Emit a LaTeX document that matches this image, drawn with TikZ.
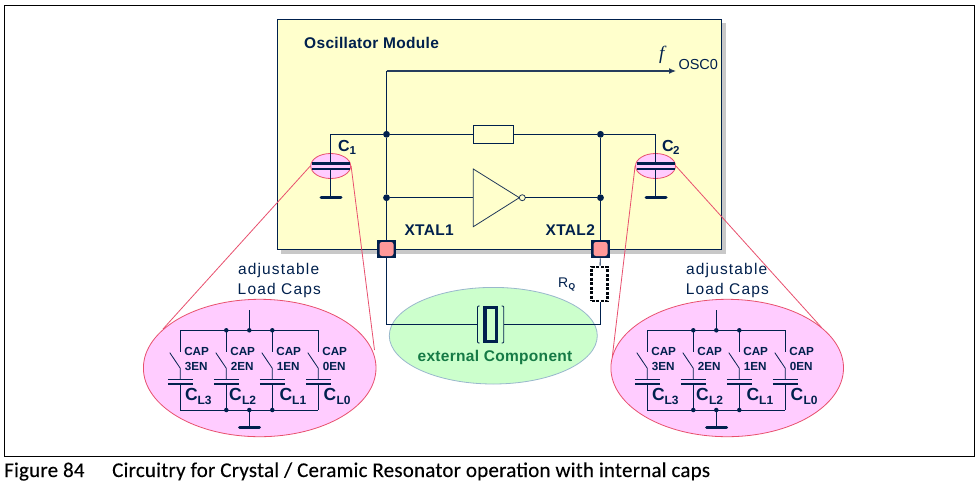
\documentclass[tikz,border=0pt]{standalone}
\usepackage{fontspec}
\setmainfont{Liberation Sans}
\newfontfamily\capfont[FakeBold=0.2,LetterSpace=1]{Carlito}
\newfontfamily\serifit{Liberation Serif}
\newfontfamily\spaced[LetterSpace=7.5]{Liberation Sans}
\newfontfamily\spacedb[LetterSpace=2,BoldFont={Liberation Sans Bold}]{Liberation Sans}
\usetikzlibrary{arrows.meta,shapes.geometric}
\definecolor{navy}{HTML}{00204D}
\definecolor{modfill}{HTML}{FFFFCC}
\definecolor{shadow}{HTML}{C8C8C8}
\definecolor{pinkfill}{HTML}{FFCCFF}
\definecolor{redline}{HTML}{E8506E}
\definecolor{padfill}{HTML}{FF9999}
\definecolor{greenfill}{HTML}{CCFFCC}
\definecolor{greenedge}{HTML}{99B8CC}
\definecolor{greentext}{HTML}{157A45}
\tikzset{
  wire/.style={draw=navy,line width=0.9pt},
  thinw/.style={draw=navy,line width=0.8pt},
  plate/.style={draw=navy,line width=2.8pt},
  gnd/.style={draw=navy,line width=3pt,line cap=round},
  lnk/.style={draw=redline,line width=0.8pt},
  dot/.style={circle,fill=navy,draw=none,minimum size=6.8pt,inner sep=0pt},
  sdot/.style={circle,fill=navy,draw=none,minimum size=4.5pt,inner sep=0pt},
  txt/.style={inner sep=0pt,text=navy},
  padbox/.style={fill=navy,minimum size=18.5pt,inner sep=0pt},
  padin/.style={fill=padfill,rounded corners=2.5pt,minimum size=14pt,inner sep=0pt},
  capl/.style={txt,anchor=west,font=\bfseries\fontsize{11.7}{12}\selectfont},
  bigc/.style={txt,anchor=base west,font=\bfseries\fontsize{17.5}{18}\selectfont},
  subc/.style={txt,anchor=base west,font=\bfseries\fontsize{12}{12}\selectfont},
  lbl/.style={txt,font=\spaced\fontsize{15.5}{16}\selectfont},
  blbl/.style={txt,font=\spacedb\bfseries\fontsize{15.5}{16}\selectfont},
}
\newcommand{\capbank}[2]{%
  \begin{scope}[xshift=#1pt]
    \node[circle,inner sep=0pt,minimum size=1pt] (#2top) at (249.3,310) {};
    \coordinate (#2bt) at (249.3,330.3);
    \coordinate (#2ba) at (180.3,330.3);
    \coordinate (#2bd) at (318.3,330.3);
    \coordinate (#2lb) at (249.3,410);
    \coordinate (#2la) at (180.3,410);
    \coordinate (#2ld) at (318.3,410);
    \coordinate (#2g) at (249.3,427.7);
    \draw[thinw] (#2top.center) -- (#2bt);
    \draw[thinw] (#2ba) -- (#2bd);
    \draw[thinw] (#2la) -- (#2ld);
    \draw[thinw] (#2lb) -- (#2g);
    \draw[gnd] (239.5,427.7) -- (259.5,427.7);
    \node[sdot] at (#2bt) {};
    \node[sdot] at (#2lb) {};
    \foreach \cx/\name in {180.3/3EN,226.3/2EN,272.3/1EN,318.3/0EN}{
      \draw[thinw] (\cx,330.3) -- (\cx,351.5);
      \draw[thinw] (\cx-10.5,352.7) -- (\cx,368.3) -- (\cx,379.7);
      \draw[draw=navy,line width=1.5pt] (\cx-12.5,379.7) -- (\cx+12.5,379.7);
      \draw[draw=navy,line width=1.5pt] (\cx-12.5,384) -- (\cx+12.5,384);
      \draw[thinw] (\cx,384) -- (\cx,410);
      \node[capl] at (\cx+3.8,351.7) {CAP};
      \node[capl] at (\cx+4.3,366) {\name};
    }
    \node[sdot] at (226.3,330.3) {};
    \node[sdot] at (272.3,330.3) {};
    \node[sdot] at (226.3,410) {};
    \node[sdot] at (272.3,410) {};
    \node[bigc] at (185,400.5) {C};
    \node[subc] at (197.3,404.5) {L3};
    \node[bigc] at (229,400.5) {C};
    \node[subc] at (241.8,404.5) {L2};
    \node[bigc] at (279.3,400.5) {C};
    \node[subc] at (292,404.5) {L1};
    \node[bigc] at (323.5,400.5) {C};
    \node[subc] at (336.3,404.5) {L0};
  \end{scope}}
\begin{document}
\begin{tikzpicture}[x=1pt,y=-1pt]
\useasboundingbox (0,0) rectangle (980,491);
\fill[white] (0,0) rectangle (980,491);
% outer frame
\draw[black,line width=0.9pt] (4.5,5.3) rectangle (974,456);
% module
\fill[shadow] (281,23) rectangle (726,253.5);
\draw[navy,line width=0.9pt,fill=modfill] (277.3,19.3) rectangle (721.5,249);
\node[blbl,anchor=west] (title) at (304,42.5) {Oscillator Module};
% big ellipses
\node[ellipse,draw=redline,fill=pinkfill,line width=0.8pt,minimum width=232.6pt,minimum height=137.4pt,inner sep=0pt] (elL) at (259.7,368) {};
\node[ellipse,draw=redline,fill=pinkfill,line width=0.8pt,minimum width=232.6pt,minimum height=137.4pt,inner sep=0pt] (elR) at (727.2,368) {};
\node[ellipse,draw=greenedge,fill=greenfill,line width=0.8pt,minimum width=208pt,minimum height=96.6pt,inner sep=0pt] (elG) at (493.3,335.7) {};
% small ellipses
\node[ellipse,draw=redline,fill=pinkfill,line width=0.8pt,minimum width=40pt,minimum height=25pt,inner sep=0pt] (c1e) at (330.7,166) {};
\node[ellipse,draw=redline,fill=pinkfill,line width=0.8pt,minimum width=40pt,minimum height=25pt,inner sep=0pt] (c2e) at (655.5,166) {};
% link lines
\coordinate (l1b) at (163,329);
\coordinate (l2b) at (374.5,350);
\coordinate (r1b) at (612.3,356.7);
\coordinate (r2b) at (821.7,327.7);
\draw[lnk] (c1e.west) -- (l1b);
\draw[lnk] (c1e.east) -- (l2b);
\draw[lnk] (c2e.west) -- (r1b);
\draw[lnk] (c2e.east) -- (r2b);
% load caps labels
\node[lbl] (adjL) at (278.6,270.7) {adjustable};
\node[lbl] (loadL) at (279.3,290) {Load Caps};
\node[lbl] (adjR) at (726.7,270.7) {adjustable};
\node[lbl] (loadR) at (727.3,290) {Load Caps};
% nodes
\node[dot] (j1) at (386.5,134.3) {};
\node[dot] (j2) at (386.5,197.7) {};
\node[dot] (j3) at (600.5,134.3) {};
\node[dot] (j4) at (600.5,197.7) {};
\node[padbox] (p1) at (386.5,249) {};
\node[padbox] (p2) at (600.5,249) {};
\node[padin] (p1i) at (p1) {};
\node[padin] (p2i) at (p2) {};
\node[wire,fill=modfill,minimum width=40.4pt,minimum height=18pt,inner sep=0pt,line width=0.9pt] (res) at (493.5,134.3) {};
\coordinate (c1t) at (330.5,134.3);
\coordinate (c2t) at (655.5,134.3);
\coordinate (g1) at (330.5,197.7);
\coordinate (g2) at (655.5,197.7);
\coordinate (fc) at (386.5,71);
\coordinate (fe) at (676,71);
% wires
\draw[draw=navy!70!gray,line width=1.2pt,-{Latex[length=7pt,width=6pt,fill=navy]}] (fc) -- (fe);
\draw[wire] (fc) -- (j1) -- (j2) -- (p1);
\draw[wire] (j3) -- (j4) -- (p2);
\draw[wire] (c1t) -- (j1) -- (res);
\draw[wire] (res) -- (j3) -- (c2t);
\draw[wire] (c1t) -- (330.5,164);
\draw[wire] (c2t) -- (655.5,164);
\draw[wire] (330.5,169) -- (g1);
\draw[wire] (655.5,169) -- (g2);
\draw[plate] (312,163.7) -- (349.5,163.7);
\draw[plate] (312,168.9) -- (349.5,168.9);
\draw[plate] (636.5,163.7) -- (674.5,163.7);
\draw[plate] (636.5,168.9) -- (674.5,168.9);
\draw[gnd] (321,197.7) -- (341,197.7);
\draw[gnd] (646,197.7) -- (666,197.7);
% inverter
\draw[draw=navy!75!gray,line width=0.8pt] (473.3,169) -- (519.3,197.7) -- (473.3,226.7) -- cycle;
\draw[draw=navy!75!gray,line width=0.8pt,fill=modfill] (522.3,197.7) circle (3pt);
\node[inner sep=0pt,minimum size=1pt] (invin) at (473.3,197.7) {};
\node[inner sep=0pt,minimum size=1pt] (invout) at (525.3,197.7) {};
\draw[wire] (j2) -- (invin.center);
\draw[wire] (invout.center) -- (j4);
% labels
\node[txt,font=\bfseries\fontsize{16}{16}\selectfont,anchor=base west] (c1l) at (338,151) {C};
\node[txt,font=\bfseries\fontsize{11.5}{12}\selectfont,anchor=base west] (c1s) at (349.3,154) {1};
\node[txt,font=\bfseries\fontsize{16}{16}\selectfont,anchor=base west] (c2l) at (662,151) {C};
\node[txt,font=\bfseries\fontsize{11.5}{12}\selectfont,anchor=base west] (c2s) at (673,154) {2};
\node[blbl,anchor=west] (x1) at (404.3,230.3) {XTAL1};
\node[blbl,anchor=west] (x2) at (545.5,230.3) {XTAL2};
\node[txt,font=\serifit\itshape\fontsize{19}{20}\selectfont,anchor=base west] (f) at (659,59) {f};
\node[txt,font=\fontsize{14.5}{15}\selectfont,anchor=base west] (osc) at (678.3,69.3) {OSC0};
\node[txt,font=\fontsize{14}{15}\selectfont,anchor=base west] (rq) at (558,287.3) {R};
\node[txt,font=\bfseries\fontsize{8.5}{9}\selectfont,anchor=base west] (rqs) at (568.5,289.5) {Q};
% RQ + crystal
\node[draw=black!85!navy,line width=2.6pt,dash pattern=on 3pt off 1.5pt,fill=white,minimum width=16pt,minimum height=34pt,inner sep=0pt] (rqbox) at (599.7,284) {};
\coordinate (wl) at (386.5,324.3);
\coordinate (wr) at (600.5,324.3);
\coordinate (brl) at (477.5,324.3);
\coordinate (brr) at (503.7,324.3);
\draw[wire] (p1) -- (wl) -- (brl);
\draw[wire] (p2) -- (rqbox);
\draw[wire] (rqbox.south -| wr) -- (wr) -- (brr);
\draw[thinw,rounded corners=1pt] (479.5,306) -- (477.5,306) -- (477.5,343) -- (479.5,343);
\draw[thinw,rounded corners=1pt] (501.7,306) -- (503.7,306) -- (503.7,343) -- (501.7,343);
\node[draw=navy,line width=3.2pt,fill=greenfill,minimum width=11.5pt,minimum height=34.5pt,inner sep=0pt] (xt) at (490.8,324.5) {};
\node[inner sep=0pt,text=greentext,font=\spacedb\bfseries\fontsize{15.5}{16}\selectfont] (ext) at (495,357.5) {external Component};
% cap banks
\capbank{0}{a}
\capbank{467}{b}
% caption
\node[inner sep=0pt,anchor=base west,font=\capfont\fontsize{21}{22}\selectfont] (figno) at (4,477) {Figure 84};
\node[inner sep=0pt,anchor=base west,font=\capfont\fontsize{21}{22}\selectfont] (figcap) at (112,477) {Circuitry for Crystal / Ceramic Resonator operation with internal caps};
\end{tikzpicture}
\end{document}
